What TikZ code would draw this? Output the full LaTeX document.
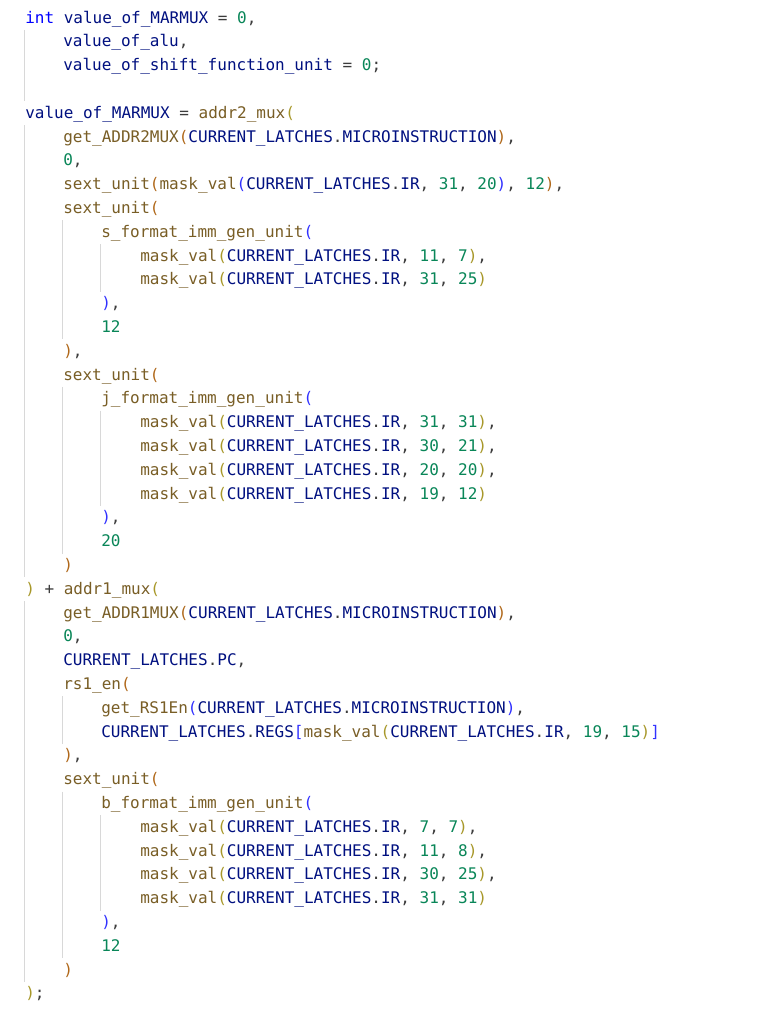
\documentclass[tikz,border=0pt]{standalone}
\usepackage{fontspec}
\setmonofont{DejaVu Sans Mono}
\definecolor{kwc}{HTML}{0000FF}
\definecolor{vrc}{HTML}{001080}
\definecolor{fnc}{HTML}{795E26}
\definecolor{nmc}{HTML}{098658}
\definecolor{puc}{HTML}{3B3B3B}
\definecolor{pac}{HTML}{A8982A}
\definecolor{pbc}{HTML}{B0681A}
\definecolor{pcc}{HTML}{3131FF}
\definecolor{guidec}{HTML}{D8D8D8}
\newcommand\Kw[1]{\textcolor{kwc}{#1}}
\newcommand\Vr[1]{\textcolor{vrc}{#1}}
\newcommand\Fn[1]{\textcolor{fnc}{#1}}
\newcommand\Nm[1]{\textcolor{nmc}{#1}}
\newcommand\Pa[1]{\textcolor{pac}{#1}}
\newcommand\Pb[1]{\textcolor{pbc}{#1}}
\newcommand\Pc[1]{\textcolor{pcc}{#1}}
\newcommand\CLx[1]{\Vr{CURRENT\_LATCHES}.\Vr{#1}}
\begin{document}
\begin{tikzpicture}[x=0.75pt,y=-0.75pt,
  code/.style={anchor=base west,inner sep=0pt,font=\ttfamily\fontsize{12}{14}\selectfont,text=puc},
  guide/.style={draw=guidec,line width=0.75pt}]
\fill[white] (0,0) rectangle (767,1011);
\useasboundingbox (0,0) rectangle (767,1011);
\def\ly#1{18+#1*23.8}
% indent guides
\foreach \gx/\a/\b in {25/1/3,25/5/23,25/25/40,63/9/13,63/16/22,63/29/30,63/33/39,101/10/11,101/17/20,101/34/37}
  \draw[guide] (\gx-1,{\ly{\a}-11.9}) -- (\gx-1,{\ly{\b}+11.9});
\newcommand\Ln[4]{\node[code] (#1) at (#2,{\ly{#3}+5}) {#4};}
\Ln{l0}{25}{0}{\Kw{int} \Vr{value\_of\_MARMUX} = \Nm{0},}
\Ln{l1}{63}{1}{\Vr{value\_of\_alu},}
\Ln{l2}{63}{2}{\Vr{value\_of\_shift\_function\_unit} = \Nm{0};}
\Ln{l4}{25}{4}{\Vr{value\_of\_MARMUX} = \Fn{addr2\_mux}\Pa{(}}
\Ln{l5}{63}{5}{\Fn{get\_ADDR2MUX}\Pb{(}\CLx{MICROINSTRUCTION}\Pb{)},}
\Ln{l6}{63}{6}{\Nm{0},}
\Ln{l7}{63}{7}{\Fn{sext\_unit}\Pb{(}\Fn{mask\_val}\Pc{(}\CLx{IR}, \Nm{31}, \Nm{20}\Pc{)}, \Nm{12}\Pb{)},}
\Ln{l8}{63}{8}{\Fn{sext\_unit}\Pb{(}}
\Ln{l9}{101}{9}{\Fn{s\_format\_imm\_gen\_unit}\Pc{(}}
\Ln{l10}{140}{10}{\Fn{mask\_val}\Pa{(}\CLx{IR}, \Nm{11}, \Nm{7}\Pa{)},}
\Ln{l11}{140}{11}{\Fn{mask\_val}\Pa{(}\CLx{IR}, \Nm{31}, \Nm{25}\Pa{)}}
\Ln{l12}{101}{12}{\Pc{)},}
\Ln{l13}{101}{13}{\Nm{12}}
\Ln{l14}{63}{14}{\Pb{)},}
\Ln{l15}{63}{15}{\Fn{sext\_unit}\Pb{(}}
\Ln{l16}{101}{16}{\Fn{j\_format\_imm\_gen\_unit}\Pc{(}}
\Ln{l17}{140}{17}{\Fn{mask\_val}\Pa{(}\CLx{IR}, \Nm{31}, \Nm{31}\Pa{)},}
\Ln{l18}{140}{18}{\Fn{mask\_val}\Pa{(}\CLx{IR}, \Nm{30}, \Nm{21}\Pa{)},}
\Ln{l19}{140}{19}{\Fn{mask\_val}\Pa{(}\CLx{IR}, \Nm{20}, \Nm{20}\Pa{)},}
\Ln{l20}{140}{20}{\Fn{mask\_val}\Pa{(}\CLx{IR}, \Nm{19}, \Nm{12}\Pa{)}}
\Ln{l21}{101}{21}{\Pc{)},}
\Ln{l22}{101}{22}{\Nm{20}}
\Ln{l23}{63}{23}{\Pb{)}}
\Ln{l24}{25}{24}{\Pa{)} + \Fn{addr1\_mux}\Pa{(}}
\Ln{l25}{63}{25}{\Fn{get\_ADDR1MUX}\Pb{(}\CLx{MICROINSTRUCTION}\Pb{)},}
\Ln{l26}{63}{26}{\Nm{0},}
\Ln{l27}{63}{27}{\CLx{PC},}
\Ln{l28}{63}{28}{\Fn{rs1\_en}\Pb{(}}
\Ln{l29}{101}{29}{\Fn{get\_RS1En}\Pc{(}\CLx{MICROINSTRUCTION}\Pc{)},}
\Ln{l30}{101}{30}{\CLx{REGS}\Pc{[}\Fn{mask\_val}\Pa{(}\CLx{IR}, \Nm{19}, \Nm{15}\Pa{)}\Pc{]}}
\Ln{l31}{63}{31}{\Pb{)},}
\Ln{l32}{63}{32}{\Fn{sext\_unit}\Pb{(}}
\Ln{l33}{101}{33}{\Fn{b\_format\_imm\_gen\_unit}\Pc{(}}
\Ln{l34}{140}{34}{\Fn{mask\_val}\Pa{(}\CLx{IR}, \Nm{7}, \Nm{7}\Pa{)},}
\Ln{l35}{140}{35}{\Fn{mask\_val}\Pa{(}\CLx{IR}, \Nm{11}, \Nm{8}\Pa{)},}
\Ln{l36}{140}{36}{\Fn{mask\_val}\Pa{(}\CLx{IR}, \Nm{30}, \Nm{25}\Pa{)},}
\Ln{l37}{140}{37}{\Fn{mask\_val}\Pa{(}\CLx{IR}, \Nm{31}, \Nm{31}\Pa{)}}
\Ln{l38}{101}{38}{\Pc{)},}
\Ln{l39}{101}{39}{\Nm{12}}
\Ln{l40}{63}{40}{\Pb{)}}
\Ln{l41}{25}{41}{\Pa{)};}
\end{tikzpicture}
\end{document}
